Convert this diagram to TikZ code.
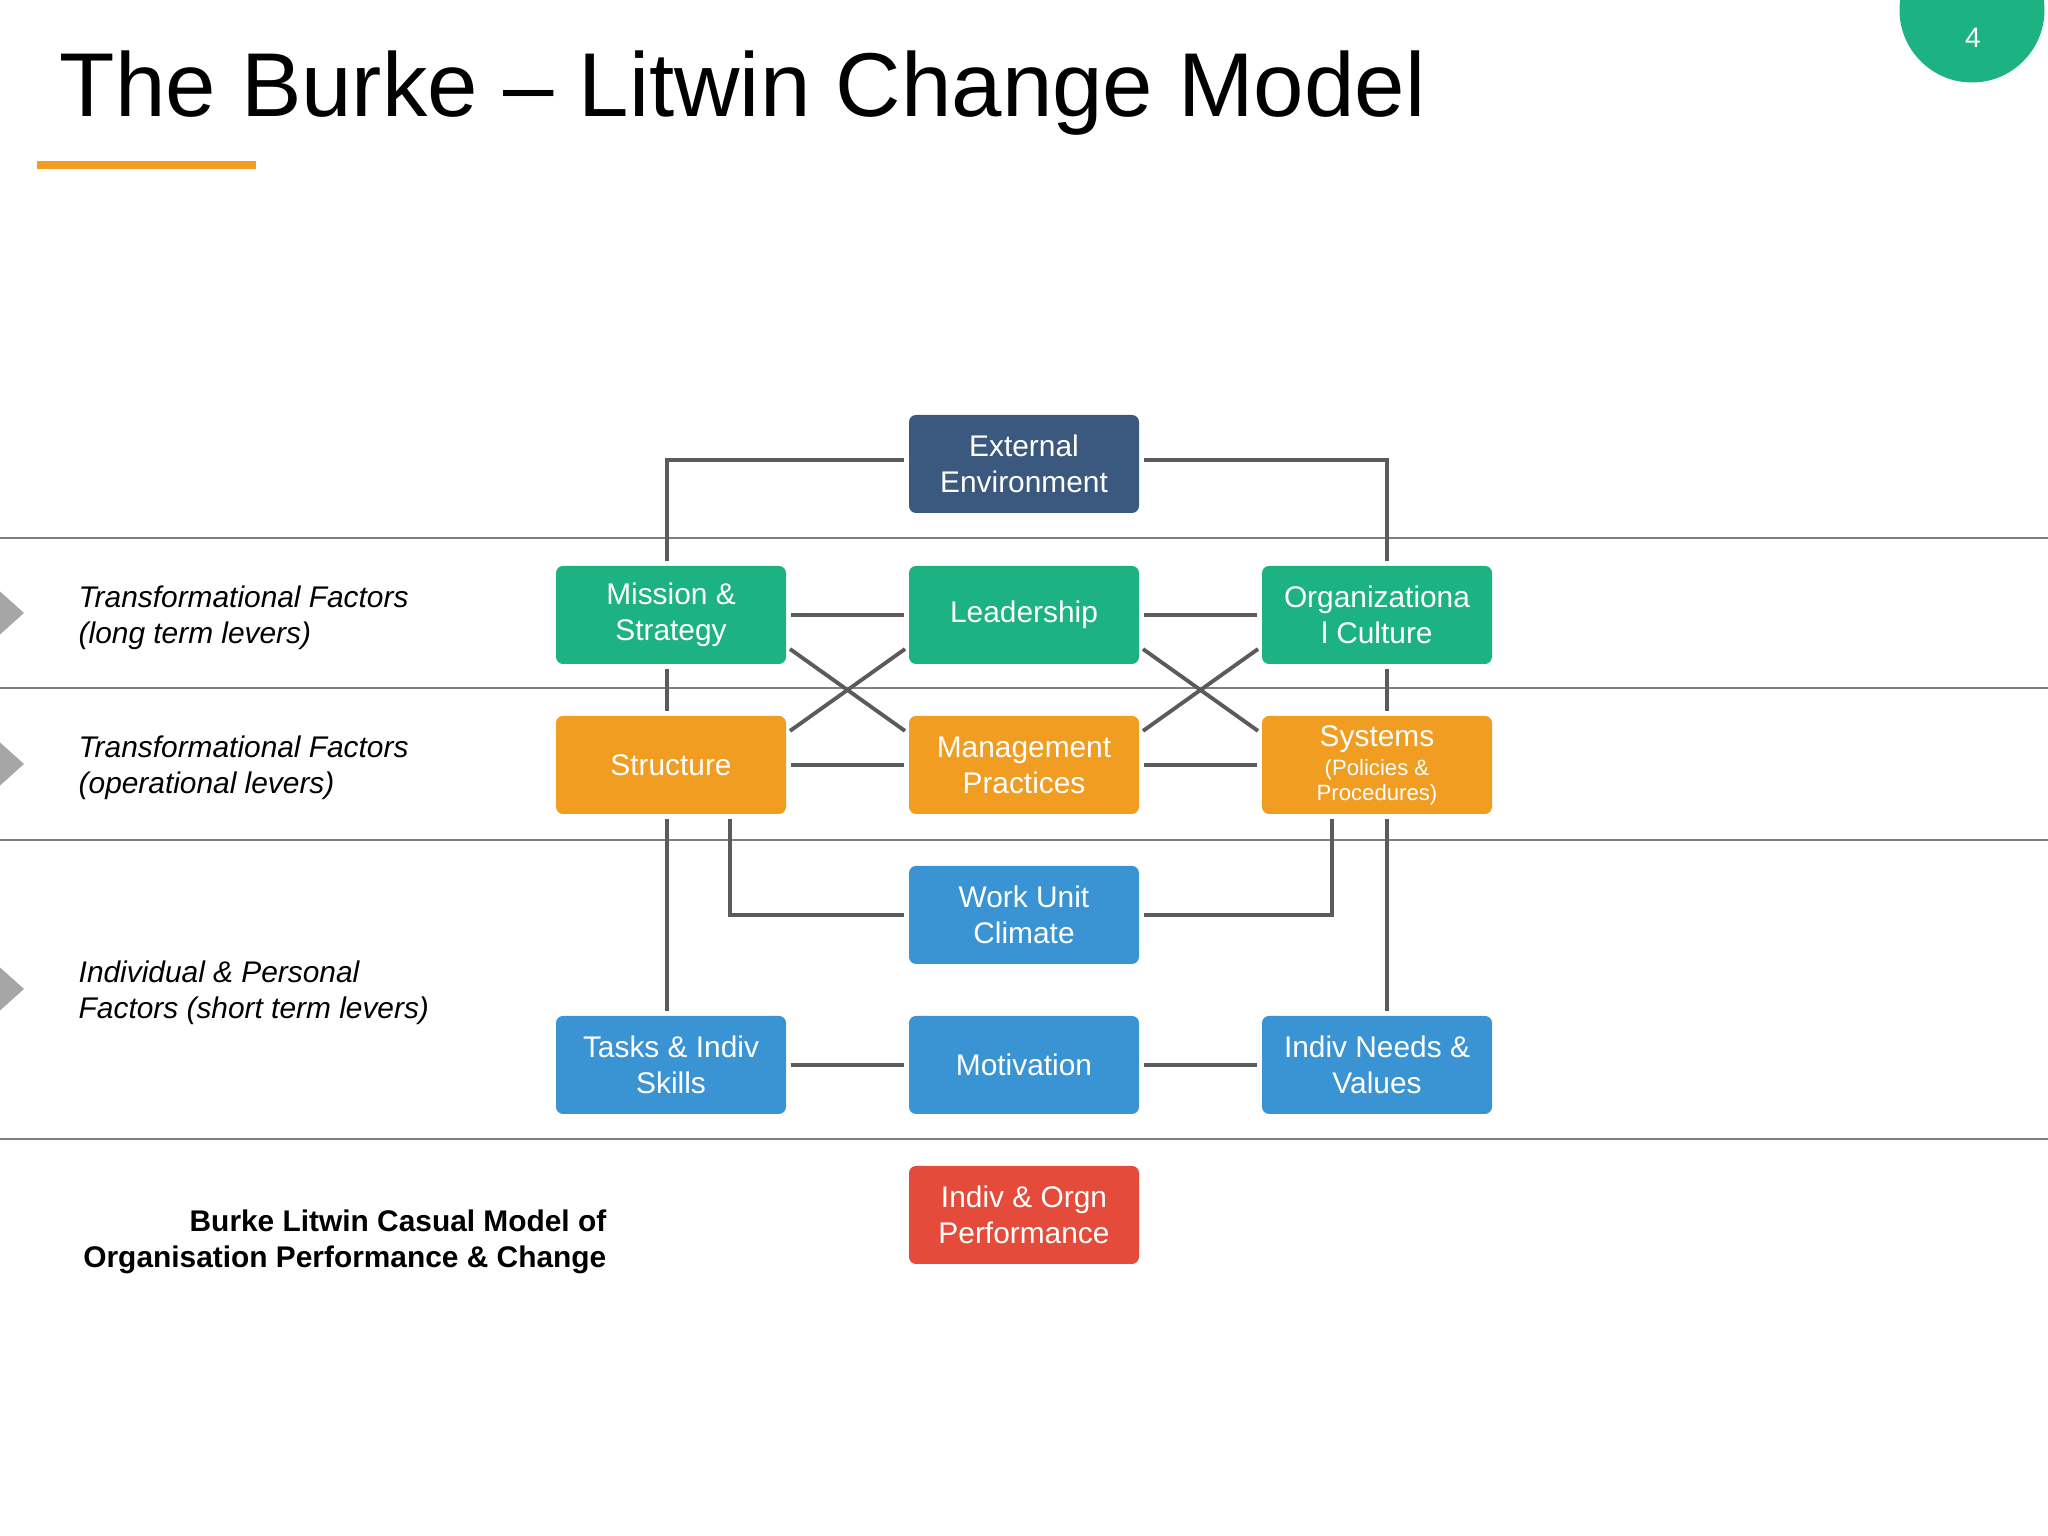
\documentclass[tikz,border=0pt]{standalone}
\usepackage{fontspec}
\setmainfont{Liberation Sans}
\definecolor{blnavy}{RGB}{59,89,126}
\definecolor{blgreen}{RGB}{28,178,130}
\definecolor{blorange}{RGB}{240,157,33}
\definecolor{blblue}{RGB}{58,148,212}
\definecolor{blred}{RGB}{228,75,58}
\definecolor{bllink}{RGB}{91,91,91}
\definecolor{blsep}{RGB}{128,128,128}
\definecolor{blmark}{RGB}{166,166,166}
\newcommand{\boxfont}{\fontsize{8.5}{10.2}\selectfont}
\newcommand{\polfont}{\fontsize{6.3}{7.1}\selectfont}
\usetikzlibrary{positioning,calc}
\tikzset{
  factor/.style={rounded corners=2pt, minimum width=2.3cm, minimum height=0.98cm, inner ysep=1pt, align=center, text=white, font=\boxfont},
  link/.style={draw=bllink, line width=1.1pt, shorten >=0.04cm, shorten <=0.04cm},
  sepline/.style={draw=blsep, line width=0.6pt},
  lvltext/.style={anchor=west, align=left, inner sep=0pt, font=\boxfont\itshape},
}

\begin{document}
\begin{tikzpicture}
  \useasboundingbox (0,0) rectangle (20.48,15.36);

  %% Title and page mark
  \node[anchor=base west, inner sep=0pt, font=\fontsize{25.8}{30}\selectfont] (title) at (0.59,14.19) {The Burke – Litwin Change Model};
  \fill[blorange] (0.37,13.67) rectangle (2.56,13.75);
  \fill[blgreen] (19.72,15.26) circle (0.725);
  \node[text=white, font=\fontsize{8}{9}\selectfont] (page) at (19.73,14.98) {4};

  %% Bands
  \foreach \y in {9.98,8.48,6.96,3.97}
    \draw[sepline] (0,\y) -- (20.48,\y);
  \foreach \y in {9.23,7.72,5.47}
    \fill[blmark] (0,\y+0.215) -- (0.24,\y) -- (0,\y-0.215) -- cycle;

  \node[lvltext] (lvllong)  at (0.78,9.18) {Transformational Factors\\(long term levers)};
  \node[lvltext] (lvlop)    at (0.78,7.68) {Transformational Factors\\(operational levers)};
  \node[lvltext] (lvlshort) at (0.78,5.43) {Individual \& Personal\\Factors (short term levers)};
  \node[anchor=east, align=right, inner sep=0pt, font=\boxfont\bfseries] (caption) at (6.07,2.94) {Burke Litwin Casual Model of\\Organisation Performance \& Change};

  %% Factors
  \node[factor, fill=blnavy]   (ext)     at (10.24,10.72) {External\\Environment};
  \node[factor, fill=blgreen]  (mission) at (6.71,9.21)   {Mission \&\\Strategy};
  \node[factor, fill=blgreen]  (lead)    at (10.24,9.21)  {Leadership};
  \node[factor, fill=blgreen]  (culture) at (13.77,9.21)  {Organizationa\\l Culture};
  \node[factor, fill=blorange] (struct)  at (6.71,7.71)   {Structure};
  \node[factor, fill=blorange] (mgmt)    at (10.24,7.71)  {Management\\Practices};
  \node[factor, fill=blorange] (systems) at (13.77,7.71)  {Systems\\[-1.9pt]{\polfont (Policies \&}\\[-3.1pt]{\polfont Procedures)}};
  \node[factor, fill=blblue]   (climate) at (10.24,6.21)  {Work Unit\\Climate};
  \node[factor, fill=blblue]   (tasks)   at (6.71,4.71)   {Tasks \& Indiv\\Skills};
  \node[factor, fill=blblue]   (motiv)   at (10.24,4.71)  {Motivation};
  \node[factor, fill=blblue]   (needs)   at (13.77,4.71)  {Indiv Needs \&\\Values};
  \node[factor, fill=blred]    (perf)    at (10.24,3.21)  {Indiv \& Orgn\\Performance};

  %% Links
  \draw[link] ([yshift=0.04cm]ext.west) -| ([xshift=-0.04cm]mission.north);
  \draw[link] ([yshift=0.04cm]ext.east) -| ([xshift=0.1cm]culture.north);
  \draw[link] (mission.east) -- (lead.west);
  \draw[link] (lead.east) -- (culture.west);
  \draw[link] (struct.east) -- (mgmt.west);
  \draw[link] (mgmt.east) -- (systems.west);
  \draw[link] ([yshift=0.18cm]mission.south east) -- ([yshift=-0.18cm]mgmt.north west);
  \draw[link] ([yshift=-0.18cm]struct.north east) -- ([yshift=0.18cm]lead.south west);
  \draw[link] ([yshift=0.18cm]lead.south east) -- ([yshift=-0.18cm]systems.north west);
  \draw[link] ([yshift=-0.18cm]mgmt.north east) -- ([yshift=0.18cm]culture.south west);
  \draw[link] ([xshift=-0.04cm]mission.south) -- ([xshift=-0.04cm]struct.north);
  \draw[link] ([xshift=0.1cm]culture.south) -- ([xshift=0.1cm]systems.north);
  \draw[link] ([xshift=-0.04cm]struct.south) -- ([xshift=-0.04cm]tasks.north);
  \draw[link] ([xshift=0.1cm]systems.south) -- ([xshift=0.1cm]needs.north);
  \draw[link] ([xshift=0.59cm]struct.south) |- (climate.west);
  \draw[link] ([xshift=-0.45cm]systems.south) |- (climate.east);
  \draw[link] (tasks.east) -- (motiv.west);
  \draw[link] (motiv.east) -- (needs.west);
\end{tikzpicture}
\end{document}
